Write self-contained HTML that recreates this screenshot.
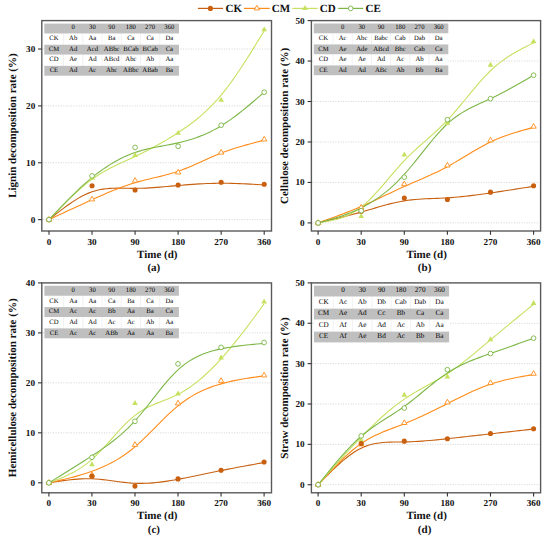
<!DOCTYPE html>
<html><head><meta charset="utf-8"><style>
html,body{margin:0;padding:0;background:#fff;overflow:hidden;width:550px;height:540px;}
svg{display:block;}
text{text-rendering:geometricPrecision;}
.tk{font-family:"Liberation Serif",serif;font-weight:bold;font-size:9.2px;fill:#111;}
.ttl{font-family:"Liberation Serif",serif;font-weight:bold;font-size:11px;fill:#111;}
.lg{font-family:"Liberation Serif",serif;font-weight:bold;font-size:11px;fill:#111;}
.tb{font-family:"Liberation Serif",serif;font-size:6.7px;fill:#000;}
</style></head><body>
<svg width="550" height="540" viewBox="0 0 550 540">
<rect width="550" height="540" fill="#fff"/>
<line x1="197.9" x2="223.0" y1="8.4" y2="8.4" stroke="#C8600F" stroke-width="1.2"/>
<circle cx="210.4" cy="8.4" r="2.55" fill="#C8600F"/>
<text x="225.6" y="12.2" class="lg">CK</text>
<line x1="244.0" x2="269.8" y1="8.4" y2="8.4" stroke="#FF8C1A" stroke-width="1.2"/>
<polygon points="256.9,5.3 259.58,9.95 254.22,9.95" fill="#fff" stroke="#FF8C1A" stroke-width="0.9" stroke-linejoin="miter"/>
<text x="271.8" y="12.2" class="lg">CM</text>
<line x1="292.3" x2="317.7" y1="8.4" y2="8.4" stroke="#C6E160" stroke-width="1.2"/>
<polygon points="305,5.1 307.86,10.05 302.14,10.05" fill="#C6E160"/>
<text x="319.8" y="12.2" class="lg">CD</text>
<line x1="338.2" x2="363.2" y1="8.4" y2="8.4" stroke="#7CB646" stroke-width="1.2"/>
<circle cx="350.7" cy="8.4" r="2.35" fill="#fff" stroke="#7CB646" stroke-width="0.9"/>
<text x="365.6" y="12.2" class="lg">CE</text>
<line x1="42.8" x2="270.5" y1="219.63" y2="219.63" stroke="#d6d6d6" stroke-width="1" stroke-dasharray="1.1 1.45"/>
<line x1="42.8" x2="270.5" y1="162.76" y2="162.76" stroke="#d6d6d6" stroke-width="1" stroke-dasharray="1.1 1.45"/>
<line x1="42.8" x2="270.5" y1="105.9" y2="105.9" stroke="#d6d6d6" stroke-width="1" stroke-dasharray="1.1 1.45"/>
<line x1="42.8" x2="270.5" y1="49.03" y2="49.03" stroke="#d6d6d6" stroke-width="1" stroke-dasharray="1.1 1.45"/>
<path d="M49,219.63 L52.59,216.77 L56.17,213.93 L59.76,211.14 L63.35,208.41 L66.93,205.78 L70.52,203.26 L74.11,200.87 L77.69,198.64 L81.28,196.6 L84.87,194.75 L88.45,193.13 L92.04,191.76 L95.63,190.66 L99.21,189.79 L102.8,189.14 L106.39,188.68 L109.97,188.38 L113.56,188.2 L117.15,188.13 L120.73,188.14 L124.32,188.19 L127.91,188.26 L131.49,188.33 L135.08,188.35 L138.67,188.32 L142.25,188.23 L145.84,188.08 L149.43,187.89 L153.01,187.66 L156.6,187.4 L160.19,187.11 L163.77,186.81 L167.36,186.49 L170.95,186.16 L174.53,185.83 L178.12,185.51 L181.71,185.2 L185.29,184.9 L188.88,184.62 L192.47,184.37 L196.05,184.13 L199.64,183.91 L203.23,183.72 L206.81,183.56 L210.4,183.43 L213.99,183.33 L217.57,183.26 L221.16,183.23 L224.75,183.24 L228.33,183.28 L231.92,183.36 L235.51,183.46 L239.09,183.59 L242.68,183.74 L246.27,183.91 L249.85,184.1 L253.44,184.3 L257.03,184.51 L260.61,184.72 L264.2,184.94" fill="none" stroke="#C8600F" stroke-width="1.1"/>
<path d="M49,219.63 L52.59,217.95 L56.17,216.28 L59.76,214.61 L63.35,212.93 L66.93,211.27 L70.52,209.6 L74.11,207.94 L77.69,206.29 L81.28,204.64 L84.87,202.99 L88.45,201.35 L92.04,199.72 L95.63,198.1 L99.21,196.5 L102.8,194.91 L106.39,193.36 L109.97,191.83 L113.56,190.35 L117.15,188.91 L120.73,187.53 L124.32,186.21 L127.91,184.95 L131.49,183.77 L135.08,182.66 L138.67,181.64 L142.25,180.69 L145.84,179.79 L149.43,178.92 L153.01,178.07 L156.6,177.23 L160.19,176.37 L163.77,175.48 L167.36,174.55 L170.95,173.55 L174.53,172.47 L178.12,171.29 L181.71,170.01 L185.29,168.63 L188.88,167.16 L192.47,165.64 L196.05,164.06 L199.64,162.46 L203.23,160.84 L206.81,159.22 L210.4,157.62 L213.99,156.06 L217.57,154.54 L221.16,153.1 L224.75,151.73 L228.33,150.44 L231.92,149.22 L235.51,148.06 L239.09,146.96 L242.68,145.91 L246.27,144.9 L249.85,143.93 L253.44,142.98 L257.03,142.06 L260.61,141.15 L264.2,140.24" fill="none" stroke="#FF8C1A" stroke-width="1.1"/>
<path d="M49,219.63 L52.59,215.88 L56.17,212.14 L59.76,208.44 L63.35,204.78 L66.93,201.2 L70.52,197.69 L74.11,194.28 L77.69,190.98 L81.28,187.81 L84.87,184.79 L88.45,181.93 L92.04,179.25 L95.63,176.76 L99.21,174.44 L102.8,172.28 L106.39,170.25 L109.97,168.34 L113.56,166.53 L117.15,164.78 L120.73,163.1 L124.32,161.45 L127.91,159.81 L131.49,158.17 L135.08,156.51 L138.67,154.8 L142.25,153.05 L145.84,151.25 L149.43,149.4 L153.01,147.51 L156.6,145.55 L160.19,143.55 L163.77,141.48 L167.36,139.36 L170.95,137.18 L174.53,134.93 L178.12,132.62 L181.71,130.25 L185.29,127.79 L188.88,125.23 L192.47,122.56 L196.05,119.76 L199.64,116.81 L203.23,113.69 L206.81,110.4 L210.4,106.91 L213.99,103.2 L217.57,99.27 L221.16,95.09 L224.75,90.66 L228.33,85.98 L231.92,81.09 L235.51,76 L239.09,70.74 L242.68,65.32 L246.27,59.77 L249.85,54.12 L253.44,48.37 L257.03,42.56 L260.61,36.71 L264.2,30.84" fill="none" stroke="#C6E160" stroke-width="1.1"/>
<path d="M49,219.63 L52.59,215.84 L56.17,212.06 L59.76,208.31 L63.35,204.59 L66.93,200.92 L70.52,197.31 L74.11,193.77 L77.69,190.31 L81.28,186.95 L84.87,183.69 L88.45,180.55 L92.04,177.55 L95.63,174.68 L99.21,171.95 L102.8,169.37 L106.39,166.93 L109.97,164.63 L113.56,162.47 L117.15,160.46 L120.73,158.59 L124.32,156.86 L127.91,155.27 L131.49,153.83 L135.08,152.53 L138.67,151.37 L142.25,150.33 L145.84,149.4 L149.43,148.56 L153.01,147.79 L156.6,147.08 L160.19,146.39 L163.77,145.73 L167.36,145.06 L170.95,144.37 L174.53,143.64 L178.12,142.86 L181.71,142 L185.29,141.07 L188.88,140.04 L192.47,138.92 L196.05,137.7 L199.64,136.38 L203.23,134.94 L206.81,133.38 L210.4,131.69 L213.99,129.87 L217.57,127.91 L221.16,125.8 L224.75,123.54 L228.33,121.14 L231.92,118.62 L235.51,115.98 L239.09,113.24 L242.68,110.4 L246.27,107.49 L249.85,104.52 L253.44,101.5 L257.03,98.44 L260.61,95.35 L264.2,92.25" fill="none" stroke="#7CB646" stroke-width="1.1"/>
<polygon points="49,216.53 51.68,221.18 46.32,221.18" fill="#fff" stroke="#FF8C1A" stroke-width="0.9" stroke-linejoin="miter"/>
<polygon points="92.04,196.23 94.72,200.88 89.36,200.88" fill="#fff" stroke="#FF8C1A" stroke-width="0.9" stroke-linejoin="miter"/>
<polygon points="135.08,177.57 137.76,182.22 132.4,182.22" fill="#fff" stroke="#FF8C1A" stroke-width="0.9" stroke-linejoin="miter"/>
<polygon points="178.12,169.33 180.8,173.98 175.44,173.98" fill="#fff" stroke="#FF8C1A" stroke-width="0.9" stroke-linejoin="miter"/>
<polygon points="221.16,149.43 223.84,154.08 218.48,154.08" fill="#fff" stroke="#FF8C1A" stroke-width="0.9" stroke-linejoin="miter"/>
<polygon points="264.2,136.35 266.88,141 261.52,141" fill="#fff" stroke="#FF8C1A" stroke-width="0.9" stroke-linejoin="miter"/>
<polygon points="49,216.33 51.86,221.28 46.14,221.28" fill="#C6E160"/>
<polygon points="92.04,174.82 94.9,179.77 89.18,179.77" fill="#C6E160"/>
<polygon points="135.08,152.07 137.94,157.02 132.22,157.02" fill="#C6E160"/>
<polygon points="178.12,129.89 180.98,134.84 175.26,134.84" fill="#C6E160"/>
<polygon points="221.16,96.91 224.02,101.86 218.3,101.86" fill="#C6E160"/>
<polygon points="264.2,26.4 267.06,31.35 261.34,31.35" fill="#C6E160"/>
<circle cx="49" cy="219.63" r="2.55" fill="#C8600F"/>
<circle cx="92.04" cy="185.79" r="2.55" fill="#C8600F"/>
<circle cx="135.08" cy="190.06" r="2.55" fill="#C8600F"/>
<circle cx="178.12" cy="184.94" r="2.55" fill="#C8600F"/>
<circle cx="221.16" cy="182.27" r="2.55" fill="#C8600F"/>
<circle cx="264.2" cy="184.2" r="2.55" fill="#C8600F"/>
<circle cx="49" cy="219.63" r="2.35" fill="#fff" stroke="#7CB646" stroke-width="0.9"/>
<circle cx="92.04" cy="175.84" r="2.35" fill="#fff" stroke="#7CB646" stroke-width="0.9"/>
<circle cx="135.08" cy="147.41" r="2.35" fill="#fff" stroke="#7CB646" stroke-width="0.9"/>
<circle cx="178.12" cy="146.27" r="2.35" fill="#fff" stroke="#7CB646" stroke-width="0.9"/>
<circle cx="221.16" cy="125.23" r="2.35" fill="#fff" stroke="#7CB646" stroke-width="0.9"/>
<circle cx="264.2" cy="92.25" r="2.35" fill="#fff" stroke="#7CB646" stroke-width="0.9"/>
<rect x="44.3" y="23.3" width="134.7" height="52.8" fill="#fff"/>
<line x1="63.54" x2="63.54" y1="23.3" y2="76.1" stroke="#e4e4e4" stroke-width="0.5"/>
<line x1="82.79" x2="82.79" y1="23.3" y2="76.1" stroke="#e4e4e4" stroke-width="0.5"/>
<line x1="102.03" x2="102.03" y1="23.3" y2="76.1" stroke="#e4e4e4" stroke-width="0.5"/>
<line x1="121.27" x2="121.27" y1="23.3" y2="76.1" stroke="#e4e4e4" stroke-width="0.5"/>
<line x1="140.51" x2="140.51" y1="23.3" y2="76.1" stroke="#e4e4e4" stroke-width="0.5"/>
<line x1="159.76" x2="159.76" y1="23.3" y2="76.1" stroke="#e4e4e4" stroke-width="0.5"/>
<rect x="44.3" y="23.6" width="134.7" height="9.86" fill="#bfbfbf"/>
<rect x="44.3" y="44.72" width="134.7" height="9.86" fill="#bfbfbf"/>
<rect x="44.3" y="65.84" width="134.7" height="9.86" fill="#bfbfbf"/>
<text x="73.16" y="29.48" class="tb" text-anchor="middle">0</text>
<text x="92.41" y="29.48" class="tb" text-anchor="middle">30</text>
<text x="111.65" y="29.48" class="tb" text-anchor="middle">90</text>
<text x="130.89" y="29.48" class="tb" text-anchor="middle">180</text>
<text x="150.14" y="29.48" class="tb" text-anchor="middle">270</text>
<text x="169.38" y="29.48" class="tb" text-anchor="middle">360</text>
<text x="53.92" y="40.34" class="tb" text-anchor="middle">CK</text>
<text x="73.16" y="40.34" class="tb" text-anchor="middle">Ab</text>
<text x="92.41" y="40.34" class="tb" text-anchor="middle">Aa</text>
<text x="111.65" y="40.34" class="tb" text-anchor="middle">Ba</text>
<text x="130.89" y="40.34" class="tb" text-anchor="middle">Ca</text>
<text x="150.14" y="40.34" class="tb" text-anchor="middle">Ca</text>
<text x="169.38" y="40.34" class="tb" text-anchor="middle">Da</text>
<text x="53.92" y="50.9" class="tb" text-anchor="middle">CM</text>
<text x="73.16" y="50.9" class="tb" text-anchor="middle">Ad</text>
<text x="92.41" y="50.9" class="tb" text-anchor="middle">Acd</text>
<text x="111.65" y="50.9" class="tb" text-anchor="middle">ABbc</text>
<text x="130.89" y="50.9" class="tb" text-anchor="middle">BCab</text>
<text x="150.14" y="50.9" class="tb" text-anchor="middle">BCab</text>
<text x="169.38" y="50.9" class="tb" text-anchor="middle">Ca</text>
<text x="53.92" y="61.46" class="tb" text-anchor="middle">CD</text>
<text x="73.16" y="61.46" class="tb" text-anchor="middle">Ae</text>
<text x="92.41" y="61.46" class="tb" text-anchor="middle">Ad</text>
<text x="111.65" y="61.46" class="tb" text-anchor="middle">ABcd</text>
<text x="130.89" y="61.46" class="tb" text-anchor="middle">Abc</text>
<text x="150.14" y="61.46" class="tb" text-anchor="middle">Ab</text>
<text x="169.38" y="61.46" class="tb" text-anchor="middle">Aa</text>
<text x="53.92" y="72.02" class="tb" text-anchor="middle">CE</text>
<text x="73.16" y="72.02" class="tb" text-anchor="middle">Ad</text>
<text x="92.41" y="72.02" class="tb" text-anchor="middle">Ac</text>
<text x="111.65" y="72.02" class="tb" text-anchor="middle">Abc</text>
<text x="130.89" y="72.02" class="tb" text-anchor="middle">ABbc</text>
<text x="150.14" y="72.02" class="tb" text-anchor="middle">ABab</text>
<text x="169.38" y="72.02" class="tb" text-anchor="middle">Ba</text>
<rect x="41.8" y="20.6" width="229.7" height="210.4" fill="none" stroke="#5a5a5a" stroke-width="1.4"/>
<line x1="38" x2="41.8" y1="219.63" y2="219.63" stroke="#333" stroke-width="1.1"/>
<text x="35.3" y="222.63" class="tk" text-anchor="end">0</text>
<line x1="38" x2="41.8" y1="162.76" y2="162.76" stroke="#333" stroke-width="1.1"/>
<text x="35.3" y="165.76" class="tk" text-anchor="end">10</text>
<line x1="38" x2="41.8" y1="105.9" y2="105.9" stroke="#333" stroke-width="1.1"/>
<text x="35.3" y="108.9" class="tk" text-anchor="end">20</text>
<line x1="38" x2="41.8" y1="49.03" y2="49.03" stroke="#333" stroke-width="1.1"/>
<text x="35.3" y="52.03" class="tk" text-anchor="end">30</text>
<line x1="49" x2="49" y1="231" y2="234.8" stroke="#333" stroke-width="1.1"/>
<text x="49" y="244.6" class="tk" text-anchor="middle">0</text>
<line x1="92.04" x2="92.04" y1="231" y2="234.8" stroke="#333" stroke-width="1.1"/>
<text x="92.04" y="244.6" class="tk" text-anchor="middle">30</text>
<line x1="135.08" x2="135.08" y1="231" y2="234.8" stroke="#333" stroke-width="1.1"/>
<text x="135.08" y="244.6" class="tk" text-anchor="middle">90</text>
<line x1="178.12" x2="178.12" y1="231" y2="234.8" stroke="#333" stroke-width="1.1"/>
<text x="178.12" y="244.6" class="tk" text-anchor="middle">180</text>
<line x1="221.16" x2="221.16" y1="231" y2="234.8" stroke="#333" stroke-width="1.1"/>
<text x="221.16" y="244.6" class="tk" text-anchor="middle">270</text>
<line x1="264.2" x2="264.2" y1="231" y2="234.8" stroke="#333" stroke-width="1.1"/>
<text x="264.2" y="244.6" class="tk" text-anchor="middle">360</text>
<text x="157.25" y="257.8" class="ttl" text-anchor="middle">Time (d)</text>
<text x="153.85" y="270.5" class="ttl" text-anchor="middle">(a)</text>
<text transform="translate(15.6,125.6) rotate(-90)" class="ttl" text-anchor="middle">Lignin decomposition rate (%)</text>
<line x1="312.4" x2="539.6" y1="222.91" y2="222.91" stroke="#d6d6d6" stroke-width="1" stroke-dasharray="1.1 1.45"/>
<line x1="312.4" x2="539.6" y1="182.45" y2="182.45" stroke="#d6d6d6" stroke-width="1" stroke-dasharray="1.1 1.45"/>
<line x1="312.4" x2="539.6" y1="141.98" y2="141.98" stroke="#d6d6d6" stroke-width="1" stroke-dasharray="1.1 1.45"/>
<line x1="312.4" x2="539.6" y1="101.52" y2="101.52" stroke="#d6d6d6" stroke-width="1" stroke-dasharray="1.1 1.45"/>
<line x1="312.4" x2="539.6" y1="61.06" y2="61.06" stroke="#d6d6d6" stroke-width="1" stroke-dasharray="1.1 1.45"/>
<line x1="312.4" x2="539.6" y1="20.6" y2="20.6" stroke="#d6d6d6" stroke-width="1" stroke-dasharray="1.1 1.45"/>
<path d="M318.1,222.91 L321.69,222.07 L325.28,221.23 L328.88,220.38 L332.47,219.52 L336.06,218.66 L339.65,217.78 L343.24,216.89 L346.83,215.98 L350.43,215.05 L354.02,214.09 L357.61,213.11 L361.2,212.1 L364.79,211.07 L368.38,210.01 L371.98,208.95 L375.57,207.89 L379.16,206.84 L382.75,205.82 L386.34,204.84 L389.93,203.9 L393.53,203.02 L397.12,202.21 L400.71,201.49 L404.3,200.86 L407.89,200.32 L411.48,199.88 L415.08,199.52 L418.67,199.23 L422.26,198.99 L425.85,198.79 L429.44,198.62 L433.03,198.48 L436.62,198.33 L440.22,198.19 L443.81,198.02 L447.4,197.82 L450.99,197.58 L454.58,197.31 L458.18,196.99 L461.77,196.64 L465.36,196.26 L468.95,195.85 L472.54,195.42 L476.13,194.96 L479.73,194.49 L483.32,193.99 L486.91,193.48 L490.5,192.97 L494.09,192.44 L497.68,191.9 L501.28,191.36 L504.87,190.81 L508.46,190.26 L512.05,189.7 L515.64,189.14 L519.23,188.57 L522.83,188.01 L526.42,187.43 L530.01,186.86 L533.6,186.29" fill="none" stroke="#C8600F" stroke-width="1.1"/>
<path d="M318.1,222.91 L321.69,221.63 L325.28,220.35 L328.88,219.06 L332.47,217.76 L336.06,216.44 L339.65,215.11 L343.24,213.75 L346.83,212.37 L350.43,210.95 L354.02,209.5 L357.61,208.01 L361.2,206.48 L364.79,204.9 L368.38,203.29 L371.98,201.64 L375.57,199.97 L379.16,198.28 L382.75,196.58 L386.34,194.87 L389.93,193.16 L393.53,191.46 L397.12,189.78 L400.71,188.12 L404.3,186.49 L407.89,184.9 L411.48,183.32 L415.08,181.77 L418.67,180.21 L422.26,178.66 L425.85,177.08 L429.44,175.48 L433.03,173.83 L436.62,172.14 L440.22,170.39 L443.81,168.57 L447.4,166.67 L450.99,164.68 L454.58,162.61 L458.18,160.5 L461.77,158.34 L465.36,156.17 L468.95,154 L472.54,151.84 L476.13,149.72 L479.73,147.66 L483.32,145.67 L486.91,143.77 L490.5,141.98 L494.09,140.32 L497.68,138.77 L501.28,137.33 L504.87,135.99 L508.46,134.73 L512.05,133.55 L515.64,132.43 L519.23,131.36 L522.83,130.34 L526.42,129.35 L530.01,128.38 L533.6,127.42" fill="none" stroke="#FF8C1A" stroke-width="1.1"/>
<path d="M318.1,222.91 L321.69,222.33 L325.28,221.73 L328.88,221.06 L332.47,220.3 L336.06,219.41 L339.65,218.37 L343.24,217.15 L346.83,215.7 L350.43,214.01 L354.02,212.04 L357.61,209.75 L361.2,207.13 L364.79,204.14 L368.38,200.83 L371.98,197.25 L375.57,193.44 L379.16,189.45 L382.75,185.33 L386.34,181.13 L389.93,176.89 L393.53,172.67 L397.12,168.52 L400.71,164.48 L404.3,160.6 L407.89,156.91 L411.48,153.4 L415.08,150.03 L418.67,146.77 L422.26,143.57 L425.85,140.41 L429.44,137.24 L433.03,134.04 L436.62,130.76 L440.22,127.37 L443.81,123.84 L447.4,120.14 L450.99,116.23 L454.58,112.14 L458.18,107.93 L461.77,103.62 L465.36,99.26 L468.95,94.89 L472.54,90.55 L476.13,86.29 L479.73,82.14 L483.32,78.14 L486.91,74.34 L490.5,70.77 L494.09,67.47 L497.68,64.43 L501.28,61.61 L504.87,59 L508.46,56.58 L512.05,54.32 L515.64,52.2 L519.23,50.19 L522.83,48.28 L526.42,46.43 L530.01,44.63 L533.6,42.85" fill="none" stroke="#C6E160" stroke-width="1.1"/>
<path d="M318.1,222.91 L321.69,221.93 L325.28,220.95 L328.88,219.94 L332.47,218.89 L336.06,217.8 L339.65,216.66 L343.24,215.44 L346.83,214.14 L350.43,212.76 L354.02,211.27 L357.61,209.67 L361.2,207.94 L364.79,206.07 L368.38,204.06 L371.98,201.9 L375.57,199.58 L379.16,197.09 L382.75,194.43 L386.34,191.58 L389.93,188.55 L393.53,185.31 L397.12,181.87 L400.71,178.22 L404.3,174.35 L407.89,170.26 L411.48,166 L415.08,161.59 L418.67,157.1 L422.26,152.58 L425.85,148.06 L429.44,143.6 L433.03,139.24 L436.62,135.03 L440.22,131.02 L443.81,127.25 L447.4,123.78 L450.99,120.63 L454.58,117.79 L458.18,115.21 L461.77,112.88 L465.36,110.75 L468.95,108.79 L472.54,106.97 L476.13,105.24 L479.73,103.59 L483.32,101.97 L486.91,100.35 L490.5,98.69 L494.09,96.97 L497.68,95.2 L501.28,93.36 L504.87,91.47 L508.46,89.54 L512.05,87.57 L515.64,85.56 L519.23,83.53 L522.83,81.47 L526.42,79.4 L530.01,77.31 L533.6,75.22" fill="none" stroke="#7CB646" stroke-width="1.1"/>
<polygon points="318.1,219.81 320.78,224.46 315.42,224.46" fill="#fff" stroke="#FF8C1A" stroke-width="0.9" stroke-linejoin="miter"/>
<polygon points="361.2,204.43 363.88,209.08 358.52,209.08" fill="#fff" stroke="#FF8C1A" stroke-width="0.9" stroke-linejoin="miter"/>
<polygon points="404.3,181.09 406.98,185.74 401.62,185.74" fill="#fff" stroke="#FF8C1A" stroke-width="0.9" stroke-linejoin="miter"/>
<polygon points="447.4,162.35 450.08,167 444.72,167" fill="#fff" stroke="#FF8C1A" stroke-width="0.9" stroke-linejoin="miter"/>
<polygon points="490.5,137.27 493.18,141.92 487.82,141.92" fill="#fff" stroke="#FF8C1A" stroke-width="0.9" stroke-linejoin="miter"/>
<polygon points="533.6,123.51 536.28,128.16 530.92,128.16" fill="#fff" stroke="#FF8C1A" stroke-width="0.9" stroke-linejoin="miter"/>
<polygon points="318.1,219.61 320.96,224.56 315.24,224.56" fill="#C6E160"/>
<polygon points="361.2,213.13 364.06,218.08 358.34,218.08" fill="#C6E160"/>
<polygon points="404.3,151.43 407.16,156.38 401.44,156.38" fill="#C6E160"/>
<polygon points="447.4,120.07 450.26,125.02 444.54,125.02" fill="#C6E160"/>
<polygon points="490.5,61.81 493.36,66.76 487.64,66.76" fill="#C6E160"/>
<polygon points="533.6,38.34 536.46,43.29 530.74,43.29" fill="#C6E160"/>
<circle cx="318.1" cy="222.91" r="2.55" fill="#C8600F"/>
<circle cx="361.2" cy="211.17" r="2.55" fill="#C8600F"/>
<circle cx="404.3" cy="197.98" r="2.55" fill="#C8600F"/>
<circle cx="447.4" cy="199.44" r="2.55" fill="#C8600F"/>
<circle cx="490.5" cy="192.16" r="2.55" fill="#C8600F"/>
<circle cx="533.6" cy="185.68" r="2.55" fill="#C8600F"/>
<circle cx="318.1" cy="222.91" r="2.35" fill="#fff" stroke="#7CB646" stroke-width="0.9"/>
<circle cx="361.2" cy="210.77" r="2.35" fill="#fff" stroke="#7CB646" stroke-width="0.9"/>
<circle cx="404.3" cy="177.19" r="2.35" fill="#fff" stroke="#7CB646" stroke-width="0.9"/>
<circle cx="447.4" cy="119.73" r="2.35" fill="#fff" stroke="#7CB646" stroke-width="0.9"/>
<circle cx="490.5" cy="98.69" r="2.35" fill="#fff" stroke="#7CB646" stroke-width="0.9"/>
<circle cx="533.6" cy="75.22" r="2.35" fill="#fff" stroke="#7CB646" stroke-width="0.9"/>
<rect x="313.8" y="23.2" width="134.5" height="52.4" fill="#fff"/>
<line x1="333.01" x2="333.01" y1="23.2" y2="75.6" stroke="#e4e4e4" stroke-width="0.5"/>
<line x1="352.23" x2="352.23" y1="23.2" y2="75.6" stroke="#e4e4e4" stroke-width="0.5"/>
<line x1="371.44" x2="371.44" y1="23.2" y2="75.6" stroke="#e4e4e4" stroke-width="0.5"/>
<line x1="390.66" x2="390.66" y1="23.2" y2="75.6" stroke="#e4e4e4" stroke-width="0.5"/>
<line x1="409.87" x2="409.87" y1="23.2" y2="75.6" stroke="#e4e4e4" stroke-width="0.5"/>
<line x1="429.09" x2="429.09" y1="23.2" y2="75.6" stroke="#e4e4e4" stroke-width="0.5"/>
<rect x="313.8" y="23.5" width="134.5" height="9.78" fill="#bfbfbf"/>
<rect x="313.8" y="44.46" width="134.5" height="9.78" fill="#bfbfbf"/>
<rect x="313.8" y="65.42" width="134.5" height="9.78" fill="#bfbfbf"/>
<text x="342.62" y="29.34" class="tb" text-anchor="middle">0</text>
<text x="361.84" y="29.34" class="tb" text-anchor="middle">30</text>
<text x="381.05" y="29.34" class="tb" text-anchor="middle">90</text>
<text x="400.26" y="29.34" class="tb" text-anchor="middle">180</text>
<text x="419.48" y="29.34" class="tb" text-anchor="middle">270</text>
<text x="438.69" y="29.34" class="tb" text-anchor="middle">360</text>
<text x="323.41" y="40.12" class="tb" text-anchor="middle">CK</text>
<text x="342.62" y="40.12" class="tb" text-anchor="middle">Ac</text>
<text x="361.84" y="40.12" class="tb" text-anchor="middle">Abc</text>
<text x="381.05" y="40.12" class="tb" text-anchor="middle">Babc</text>
<text x="400.26" y="40.12" class="tb" text-anchor="middle">Cab</text>
<text x="419.48" y="40.12" class="tb" text-anchor="middle">Dab</text>
<text x="438.69" y="40.12" class="tb" text-anchor="middle">Da</text>
<text x="323.41" y="50.6" class="tb" text-anchor="middle">CM</text>
<text x="342.62" y="50.6" class="tb" text-anchor="middle">Ae</text>
<text x="361.84" y="50.6" class="tb" text-anchor="middle">Ade</text>
<text x="381.05" y="50.6" class="tb" text-anchor="middle">ABcd</text>
<text x="400.26" y="50.6" class="tb" text-anchor="middle">Bbc</text>
<text x="419.48" y="50.6" class="tb" text-anchor="middle">Cab</text>
<text x="438.69" y="50.6" class="tb" text-anchor="middle">Ca</text>
<text x="323.41" y="61.08" class="tb" text-anchor="middle">CD</text>
<text x="342.62" y="61.08" class="tb" text-anchor="middle">Ae</text>
<text x="361.84" y="61.08" class="tb" text-anchor="middle">Ae</text>
<text x="381.05" y="61.08" class="tb" text-anchor="middle">Ad</text>
<text x="400.26" y="61.08" class="tb" text-anchor="middle">Ac</text>
<text x="419.48" y="61.08" class="tb" text-anchor="middle">Ab</text>
<text x="438.69" y="61.08" class="tb" text-anchor="middle">Aa</text>
<text x="323.41" y="71.56" class="tb" text-anchor="middle">CE</text>
<text x="342.62" y="71.56" class="tb" text-anchor="middle">Ad</text>
<text x="361.84" y="71.56" class="tb" text-anchor="middle">Ad</text>
<text x="381.05" y="71.56" class="tb" text-anchor="middle">ABc</text>
<text x="400.26" y="71.56" class="tb" text-anchor="middle">Ab</text>
<text x="419.48" y="71.56" class="tb" text-anchor="middle">Bb</text>
<text x="438.69" y="71.56" class="tb" text-anchor="middle">Ba</text>
<rect x="311.4" y="20.6" width="229.2" height="210.4" fill="none" stroke="#5a5a5a" stroke-width="1.4"/>
<line x1="307.6" x2="311.4" y1="222.91" y2="222.91" stroke="#333" stroke-width="1.1"/>
<text x="304.6" y="225.91" class="tk" text-anchor="end">0</text>
<line x1="307.6" x2="311.4" y1="182.45" y2="182.45" stroke="#333" stroke-width="1.1"/>
<text x="304.6" y="185.45" class="tk" text-anchor="end">10</text>
<line x1="307.6" x2="311.4" y1="141.98" y2="141.98" stroke="#333" stroke-width="1.1"/>
<text x="304.6" y="144.98" class="tk" text-anchor="end">20</text>
<line x1="307.6" x2="311.4" y1="101.52" y2="101.52" stroke="#333" stroke-width="1.1"/>
<text x="304.6" y="104.52" class="tk" text-anchor="end">30</text>
<line x1="307.6" x2="311.4" y1="61.06" y2="61.06" stroke="#333" stroke-width="1.1"/>
<text x="304.6" y="64.06" class="tk" text-anchor="end">40</text>
<line x1="307.6" x2="311.4" y1="20.6" y2="20.6" stroke="#333" stroke-width="1.1"/>
<text x="304.6" y="23.6" class="tk" text-anchor="end">50</text>
<line x1="318.1" x2="318.1" y1="231" y2="234.8" stroke="#333" stroke-width="1.1"/>
<text x="318.1" y="244.6" class="tk" text-anchor="middle">0</text>
<line x1="361.2" x2="361.2" y1="231" y2="234.8" stroke="#333" stroke-width="1.1"/>
<text x="361.2" y="244.6" class="tk" text-anchor="middle">30</text>
<line x1="404.3" x2="404.3" y1="231" y2="234.8" stroke="#333" stroke-width="1.1"/>
<text x="404.3" y="244.6" class="tk" text-anchor="middle">90</text>
<line x1="447.4" x2="447.4" y1="231" y2="234.8" stroke="#333" stroke-width="1.1"/>
<text x="447.4" y="244.6" class="tk" text-anchor="middle">180</text>
<line x1="490.5" x2="490.5" y1="231" y2="234.8" stroke="#333" stroke-width="1.1"/>
<text x="490.5" y="244.6" class="tk" text-anchor="middle">270</text>
<line x1="533.6" x2="533.6" y1="231" y2="234.8" stroke="#333" stroke-width="1.1"/>
<text x="533.6" y="244.6" class="tk" text-anchor="middle">360</text>
<text x="426.6" y="257.8" class="ttl" text-anchor="middle">Time (d)</text>
<text x="424.6" y="270.5" class="ttl" text-anchor="middle">(b)</text>
<text transform="translate(287.7,125.9) rotate(-90)" class="ttl" text-anchor="middle">Cellulose decomposition rate (%)</text>
<line x1="42.8" x2="270.5" y1="482.8" y2="482.8" stroke="#d6d6d6" stroke-width="1" stroke-dasharray="1.1 1.45"/>
<line x1="42.8" x2="270.5" y1="432.83" y2="432.83" stroke="#d6d6d6" stroke-width="1" stroke-dasharray="1.1 1.45"/>
<line x1="42.8" x2="270.5" y1="382.85" y2="382.85" stroke="#d6d6d6" stroke-width="1" stroke-dasharray="1.1 1.45"/>
<line x1="42.8" x2="270.5" y1="332.88" y2="332.88" stroke="#d6d6d6" stroke-width="1" stroke-dasharray="1.1 1.45"/>
<line x1="42.8" x2="270.5" y1="282.9" y2="282.9" stroke="#d6d6d6" stroke-width="1" stroke-dasharray="1.1 1.45"/>
<path d="M48.9,482.8 L52.49,482.24 L56.07,481.69 L59.66,481.15 L63.25,480.64 L66.83,480.18 L70.42,479.76 L74.01,479.4 L77.59,479.11 L81.18,478.89 L84.77,478.76 L88.35,478.73 L91.94,478.81 L95.53,478.99 L99.11,479.28 L102.7,479.64 L106.29,480.06 L109.87,480.53 L113.46,481.01 L117.05,481.5 L120.63,481.97 L124.22,482.4 L127.81,482.78 L131.39,483.09 L134.98,483.3 L138.57,483.41 L142.15,483.42 L145.74,483.32 L149.33,483.14 L152.91,482.87 L156.5,482.53 L160.09,482.12 L163.67,481.65 L167.26,481.13 L170.85,480.56 L174.43,479.95 L178.02,479.31 L181.61,478.64 L185.19,477.95 L188.78,477.24 L192.37,476.52 L195.95,475.78 L199.54,475.04 L203.13,474.29 L206.71,473.53 L210.3,472.78 L213.89,472.03 L217.47,471.29 L221.06,470.56 L224.65,469.84 L228.23,469.14 L231.82,468.44 L235.41,467.76 L238.99,467.08 L242.58,466.42 L246.17,465.76 L249.75,465.1 L253.34,464.45 L256.93,463.8 L260.51,463.16 L264.1,462.51" fill="none" stroke="#C8600F" stroke-width="1.1"/>
<path d="M48.9,482.8 L52.49,482.01 L56.07,481.21 L59.66,480.4 L63.25,479.57 L66.83,478.7 L70.42,477.81 L74.01,476.87 L77.59,475.88 L81.18,474.84 L84.77,473.74 L88.35,472.56 L91.94,471.31 L95.53,469.98 L99.11,468.55 L102.7,467.01 L106.29,465.37 L109.87,463.59 L113.46,461.69 L117.05,459.63 L120.63,457.43 L124.22,455.05 L127.81,452.5 L131.39,449.76 L134.98,446.82 L138.57,443.69 L142.15,440.38 L145.74,436.93 L149.33,433.39 L152.91,429.79 L156.5,426.15 L160.09,422.53 L163.67,418.96 L167.26,415.46 L170.85,412.09 L174.43,408.87 L178.02,405.84 L181.61,403.03 L185.19,400.44 L188.78,398.05 L192.37,395.86 L195.95,393.84 L199.54,392 L203.13,390.31 L206.71,388.77 L210.3,387.37 L213.89,386.09 L217.47,384.92 L221.06,383.85 L224.65,382.87 L228.23,381.98 L231.82,381.15 L235.41,380.4 L238.99,379.7 L242.58,379.05 L246.17,378.45 L249.75,377.89 L253.34,377.35 L256.93,376.84 L260.51,376.35 L264.1,375.86" fill="none" stroke="#FF8C1A" stroke-width="1.1"/>
<path d="M48.9,482.8 L52.49,481.45 L56.07,480.08 L59.66,478.65 L63.25,477.15 L66.83,475.54 L70.42,473.81 L74.01,471.92 L77.59,469.86 L81.18,467.59 L84.77,465.1 L88.35,462.35 L91.94,459.32 L95.53,455.99 L99.11,452.42 L102.7,448.66 L106.29,444.76 L109.87,440.78 L113.46,436.77 L117.05,432.79 L120.63,428.9 L124.22,425.16 L127.81,421.61 L131.39,418.32 L134.98,415.34 L138.57,412.7 L142.15,410.39 L145.74,408.35 L149.33,406.53 L152.91,404.89 L156.5,403.38 L160.09,401.95 L163.67,400.55 L167.26,399.14 L170.85,397.67 L174.43,396.09 L178.02,394.35 L181.61,392.41 L185.19,390.27 L188.78,387.94 L192.37,385.42 L195.95,382.71 L199.54,379.81 L203.13,376.74 L206.71,373.5 L210.3,370.08 L213.89,366.5 L217.47,362.76 L221.06,358.86 L224.65,354.82 L228.23,350.63 L231.82,346.32 L235.41,341.89 L238.99,337.36 L242.58,332.74 L246.17,328.05 L249.75,323.29 L253.34,318.49 L256.93,313.64 L260.51,308.77 L264.1,303.89" fill="none" stroke="#C6E160" stroke-width="1.1"/>
<path d="M48.9,482.8 L52.49,480.6 L56.07,478.39 L59.66,476.17 L63.25,473.96 L66.83,471.73 L70.42,469.5 L74.01,467.25 L77.59,465 L81.18,462.73 L84.77,460.44 L88.35,458.14 L91.94,455.82 L95.53,453.47 L99.11,451.09 L102.7,448.64 L106.29,446.12 L109.87,443.5 L113.46,440.77 L117.05,437.9 L120.63,434.87 L124.22,431.67 L127.81,428.28 L131.39,424.67 L134.98,420.83 L138.57,416.76 L142.15,412.48 L145.74,408.06 L149.33,403.53 L152.91,398.96 L156.5,394.39 L160.09,389.87 L163.67,385.46 L167.26,381.2 L170.85,377.15 L174.43,373.35 L178.02,369.86 L181.61,366.71 L185.19,363.9 L188.78,361.39 L192.37,359.18 L195.95,357.22 L199.54,355.5 L203.13,354 L206.71,352.69 L210.3,351.54 L213.89,350.54 L217.47,349.66 L221.06,348.87 L224.65,348.16 L228.23,347.51 L231.82,346.93 L235.41,346.39 L238.99,345.91 L242.58,345.47 L246.17,345.07 L249.75,344.69 L253.34,344.34 L256.93,344.01 L260.51,343.69 L264.1,343.37" fill="none" stroke="#7CB646" stroke-width="1.1"/>
<polygon points="48.9,479.7 51.58,484.35 46.22,484.35" fill="#fff" stroke="#FF8C1A" stroke-width="0.9" stroke-linejoin="miter"/>
<polygon points="91.94,471.96 94.62,476.61 89.26,476.61" fill="#fff" stroke="#FF8C1A" stroke-width="0.9" stroke-linejoin="miter"/>
<polygon points="134.98,441.72 137.66,446.37 132.3,446.37" fill="#fff" stroke="#FF8C1A" stroke-width="0.9" stroke-linejoin="miter"/>
<polygon points="178.02,400.24 180.7,404.89 175.34,404.89" fill="#fff" stroke="#FF8C1A" stroke-width="0.9" stroke-linejoin="miter"/>
<polygon points="221.06,377.75 223.74,382.4 218.38,382.4" fill="#fff" stroke="#FF8C1A" stroke-width="0.9" stroke-linejoin="miter"/>
<polygon points="264.1,372.26 266.78,376.91 261.42,376.91" fill="#fff" stroke="#FF8C1A" stroke-width="0.9" stroke-linejoin="miter"/>
<polygon points="48.9,479.5 51.76,484.45 46.04,484.45" fill="#C6E160"/>
<polygon points="91.94,461.31 94.8,466.26 89.08,466.26" fill="#C6E160"/>
<polygon points="134.98,400.04 137.84,404.99 132.12,404.99" fill="#C6E160"/>
<polygon points="178.02,390.55 180.88,395.5 175.16,395.5" fill="#C6E160"/>
<polygon points="221.06,354.56 223.92,359.51 218.2,359.51" fill="#C6E160"/>
<polygon points="264.1,298.59 266.96,303.54 261.24,303.54" fill="#C6E160"/>
<circle cx="48.9" cy="482.8" r="2.55" fill="#C8600F"/>
<circle cx="91.94" cy="476.16" r="2.55" fill="#C8600F"/>
<circle cx="134.98" cy="486.1" r="2.55" fill="#C8600F"/>
<circle cx="178.02" cy="478.91" r="2.55" fill="#C8600F"/>
<circle cx="221.06" cy="470.31" r="2.55" fill="#C8600F"/>
<circle cx="264.1" cy="462.01" r="2.55" fill="#C8600F"/>
<circle cx="48.9" cy="482.8" r="2.35" fill="#fff" stroke="#7CB646" stroke-width="0.9"/>
<circle cx="91.94" cy="457.32" r="2.35" fill="#fff" stroke="#7CB646" stroke-width="0.9"/>
<circle cx="134.98" cy="421.33" r="2.35" fill="#fff" stroke="#7CB646" stroke-width="0.9"/>
<circle cx="178.02" cy="363.86" r="2.35" fill="#fff" stroke="#7CB646" stroke-width="0.9"/>
<circle cx="221.06" cy="347.37" r="2.35" fill="#fff" stroke="#7CB646" stroke-width="0.9"/>
<circle cx="264.1" cy="342.52" r="2.35" fill="#fff" stroke="#7CB646" stroke-width="0.9"/>
<rect x="44.4" y="285.5" width="134.5" height="53.2" fill="#fff"/>
<line x1="63.61" x2="63.61" y1="285.5" y2="338.7" stroke="#e4e4e4" stroke-width="0.5"/>
<line x1="82.83" x2="82.83" y1="285.5" y2="338.7" stroke="#e4e4e4" stroke-width="0.5"/>
<line x1="102.04" x2="102.04" y1="285.5" y2="338.7" stroke="#e4e4e4" stroke-width="0.5"/>
<line x1="121.26" x2="121.26" y1="285.5" y2="338.7" stroke="#e4e4e4" stroke-width="0.5"/>
<line x1="140.47" x2="140.47" y1="285.5" y2="338.7" stroke="#e4e4e4" stroke-width="0.5"/>
<line x1="159.69" x2="159.69" y1="285.5" y2="338.7" stroke="#e4e4e4" stroke-width="0.5"/>
<rect x="44.4" y="285.8" width="134.5" height="9.94" fill="#bfbfbf"/>
<rect x="44.4" y="307.08" width="134.5" height="9.94" fill="#bfbfbf"/>
<rect x="44.4" y="328.36" width="134.5" height="9.94" fill="#bfbfbf"/>
<text x="73.22" y="291.72" class="tb" text-anchor="middle">0</text>
<text x="92.44" y="291.72" class="tb" text-anchor="middle">30</text>
<text x="111.65" y="291.72" class="tb" text-anchor="middle">90</text>
<text x="130.86" y="291.72" class="tb" text-anchor="middle">180</text>
<text x="150.08" y="291.72" class="tb" text-anchor="middle">270</text>
<text x="169.29" y="291.72" class="tb" text-anchor="middle">360</text>
<text x="54.01" y="302.66" class="tb" text-anchor="middle">CK</text>
<text x="73.22" y="302.66" class="tb" text-anchor="middle">Aa</text>
<text x="92.44" y="302.66" class="tb" text-anchor="middle">Aa</text>
<text x="111.65" y="302.66" class="tb" text-anchor="middle">Ca</text>
<text x="130.86" y="302.66" class="tb" text-anchor="middle">Ba</text>
<text x="150.08" y="302.66" class="tb" text-anchor="middle">Ca</text>
<text x="169.29" y="302.66" class="tb" text-anchor="middle">Da</text>
<text x="54.01" y="313.3" class="tb" text-anchor="middle">CM</text>
<text x="73.22" y="313.3" class="tb" text-anchor="middle">Ac</text>
<text x="92.44" y="313.3" class="tb" text-anchor="middle">Ac</text>
<text x="111.65" y="313.3" class="tb" text-anchor="middle">Bb</text>
<text x="130.86" y="313.3" class="tb" text-anchor="middle">Aa</text>
<text x="150.08" y="313.3" class="tb" text-anchor="middle">Ba</text>
<text x="169.29" y="313.3" class="tb" text-anchor="middle">Ca</text>
<text x="54.01" y="323.94" class="tb" text-anchor="middle">CD</text>
<text x="73.22" y="323.94" class="tb" text-anchor="middle">Ad</text>
<text x="92.44" y="323.94" class="tb" text-anchor="middle">Ad</text>
<text x="111.65" y="323.94" class="tb" text-anchor="middle">Ac</text>
<text x="130.86" y="323.94" class="tb" text-anchor="middle">Ac</text>
<text x="150.08" y="323.94" class="tb" text-anchor="middle">Ab</text>
<text x="169.29" y="323.94" class="tb" text-anchor="middle">Aa</text>
<text x="54.01" y="334.58" class="tb" text-anchor="middle">CE</text>
<text x="73.22" y="334.58" class="tb" text-anchor="middle">Ac</text>
<text x="92.44" y="334.58" class="tb" text-anchor="middle">Ac</text>
<text x="111.65" y="334.58" class="tb" text-anchor="middle">ABb</text>
<text x="130.86" y="334.58" class="tb" text-anchor="middle">Aa</text>
<text x="150.08" y="334.58" class="tb" text-anchor="middle">Aa</text>
<text x="169.29" y="334.58" class="tb" text-anchor="middle">Ba</text>
<rect x="41.8" y="282.9" width="229.7" height="209.9" fill="none" stroke="#5a5a5a" stroke-width="1.4"/>
<line x1="38" x2="41.8" y1="482.8" y2="482.8" stroke="#333" stroke-width="1.1"/>
<text x="35" y="485.8" class="tk" text-anchor="end">0</text>
<line x1="38" x2="41.8" y1="432.83" y2="432.83" stroke="#333" stroke-width="1.1"/>
<text x="35" y="435.83" class="tk" text-anchor="end">10</text>
<line x1="38" x2="41.8" y1="382.85" y2="382.85" stroke="#333" stroke-width="1.1"/>
<text x="35" y="385.85" class="tk" text-anchor="end">20</text>
<line x1="38" x2="41.8" y1="332.88" y2="332.88" stroke="#333" stroke-width="1.1"/>
<text x="35" y="335.88" class="tk" text-anchor="end">30</text>
<line x1="38" x2="41.8" y1="282.9" y2="282.9" stroke="#333" stroke-width="1.1"/>
<text x="35" y="285.9" class="tk" text-anchor="end">40</text>
<line x1="48.9" x2="48.9" y1="492.8" y2="496.6" stroke="#333" stroke-width="1.1"/>
<text x="48.9" y="506.4" class="tk" text-anchor="middle">0</text>
<line x1="91.94" x2="91.94" y1="492.8" y2="496.6" stroke="#333" stroke-width="1.1"/>
<text x="91.94" y="506.4" class="tk" text-anchor="middle">30</text>
<line x1="134.98" x2="134.98" y1="492.8" y2="496.6" stroke="#333" stroke-width="1.1"/>
<text x="134.98" y="506.4" class="tk" text-anchor="middle">90</text>
<line x1="178.02" x2="178.02" y1="492.8" y2="496.6" stroke="#333" stroke-width="1.1"/>
<text x="178.02" y="506.4" class="tk" text-anchor="middle">180</text>
<line x1="221.06" x2="221.06" y1="492.8" y2="496.6" stroke="#333" stroke-width="1.1"/>
<text x="221.06" y="506.4" class="tk" text-anchor="middle">270</text>
<line x1="264.1" x2="264.1" y1="492.8" y2="496.6" stroke="#333" stroke-width="1.1"/>
<text x="264.1" y="506.4" class="tk" text-anchor="middle">360</text>
<text x="157.25" y="519" class="ttl" text-anchor="middle">Time (d)</text>
<text x="153.85" y="533.3" class="ttl" text-anchor="middle">(c)</text>
<text transform="translate(16.3,387.8) rotate(-90)" class="ttl" text-anchor="middle">Hemicellulose decomposition rate (%)</text>
<line x1="312.4" x2="539.6" y1="484.73" y2="484.73" stroke="#d6d6d6" stroke-width="1" stroke-dasharray="1.1 1.45"/>
<line x1="312.4" x2="539.6" y1="444.36" y2="444.36" stroke="#d6d6d6" stroke-width="1" stroke-dasharray="1.1 1.45"/>
<line x1="312.4" x2="539.6" y1="404" y2="404" stroke="#d6d6d6" stroke-width="1" stroke-dasharray="1.1 1.45"/>
<line x1="312.4" x2="539.6" y1="363.63" y2="363.63" stroke="#d6d6d6" stroke-width="1" stroke-dasharray="1.1 1.45"/>
<line x1="312.4" x2="539.6" y1="323.27" y2="323.27" stroke="#d6d6d6" stroke-width="1" stroke-dasharray="1.1 1.45"/>
<line x1="312.4" x2="539.6" y1="282.9" y2="282.9" stroke="#d6d6d6" stroke-width="1" stroke-dasharray="1.1 1.45"/>
<path d="M318.1,484.73 L321.69,481.03 L325.28,477.36 L328.88,473.75 L332.47,470.22 L336.06,466.8 L339.65,463.51 L343.24,460.39 L346.83,457.46 L350.43,454.75 L354.02,452.28 L357.61,450.09 L361.2,448.2 L364.79,446.62 L368.38,445.34 L371.98,444.33 L375.57,443.55 L379.16,442.97 L382.75,442.56 L386.34,442.29 L389.93,442.13 L393.53,442.05 L397.12,442.01 L400.71,441.98 L404.3,441.94 L407.89,441.85 L411.48,441.72 L415.08,441.55 L418.67,441.33 L422.26,441.09 L425.85,440.81 L429.44,440.51 L433.03,440.18 L436.62,439.83 L440.22,439.47 L443.81,439.09 L447.4,438.71 L450.99,438.32 L454.58,437.93 L458.18,437.53 L461.77,437.13 L465.36,436.73 L468.95,436.32 L472.54,435.91 L476.13,435.5 L479.73,435.1 L483.32,434.69 L486.91,434.28 L490.5,433.87 L494.09,433.46 L497.68,433.05 L501.28,432.65 L504.87,432.24 L508.46,431.84 L512.05,431.43 L515.64,431.03 L519.23,430.63 L522.83,430.23 L526.42,429.83 L530.01,429.42 L533.6,429.02" fill="none" stroke="#C8600F" stroke-width="1.1"/>
<path d="M318.1,484.73 L321.69,480.82 L325.28,476.94 L328.88,473.09 L332.47,469.3 L336.06,465.6 L339.65,461.99 L343.24,458.5 L346.83,455.16 L350.43,451.97 L354.02,448.96 L357.61,446.15 L361.2,443.55 L364.79,441.19 L368.38,439.05 L371.98,437.09 L375.57,435.29 L379.16,433.63 L382.75,432.09 L386.34,430.63 L389.93,429.24 L393.53,427.88 L397.12,426.53 L400.71,425.17 L404.3,423.78 L407.89,422.32 L411.48,420.8 L415.08,419.24 L418.67,417.62 L422.26,415.96 L425.85,414.27 L429.44,412.54 L433.03,410.78 L436.62,409 L440.22,407.21 L443.81,405.4 L447.4,403.59 L450.99,401.78 L454.58,399.98 L458.18,398.19 L461.77,396.42 L465.36,394.69 L468.95,393 L472.54,391.36 L476.13,389.78 L479.73,388.27 L483.32,386.83 L486.91,385.48 L490.5,384.22 L494.09,383.05 L497.68,381.98 L501.28,381 L504.87,380.09 L508.46,379.25 L512.05,378.46 L515.64,377.73 L519.23,377.04 L522.83,376.38 L526.42,375.75 L530.01,375.14 L533.6,374.53" fill="none" stroke="#FF8C1A" stroke-width="1.1"/>
<path d="M318.1,484.73 L321.69,480.63 L325.28,476.54 L328.88,472.46 L332.47,468.39 L336.06,464.35 L339.65,460.33 L343.24,456.35 L346.83,452.4 L350.43,448.5 L354.02,444.64 L357.61,440.84 L361.2,437.1 L364.79,433.42 L368.38,429.81 L371.98,426.28 L375.57,422.83 L379.16,419.48 L382.75,416.23 L386.34,413.08 L389.93,410.04 L393.53,407.12 L397.12,404.33 L400.71,401.67 L404.3,399.15 L407.89,396.77 L411.48,394.52 L415.08,392.37 L418.67,390.29 L422.26,388.27 L425.85,386.28 L429.44,384.3 L433.03,382.3 L436.62,380.27 L440.22,378.18 L443.81,376 L447.4,373.72 L450.99,371.32 L454.58,368.8 L458.18,366.17 L461.77,363.46 L465.36,360.66 L468.95,357.79 L472.54,354.87 L476.13,351.9 L479.73,348.9 L483.32,345.87 L486.91,342.84 L490.5,339.82 L494.09,336.8 L497.68,333.8 L501.28,330.81 L504.87,327.84 L508.46,324.87 L512.05,321.92 L515.64,318.97 L519.23,316.02 L522.83,313.09 L526.42,310.15 L530.01,307.22 L533.6,304.29" fill="none" stroke="#C6E160" stroke-width="1.1"/>
<path d="M318.1,484.73 L321.69,480.24 L325.28,475.76 L328.88,471.33 L332.47,466.95 L336.06,462.65 L339.65,458.45 L343.24,454.36 L346.83,450.4 L350.43,446.6 L354.02,442.96 L357.61,439.52 L361.2,436.29 L364.79,433.28 L368.38,430.46 L371.98,427.81 L375.57,425.3 L379.16,422.89 L382.75,420.56 L386.34,418.28 L389.93,416 L393.53,413.71 L397.12,411.37 L400.71,408.95 L404.3,406.42 L407.89,403.76 L411.48,400.98 L415.08,398.12 L418.67,395.2 L422.26,392.24 L425.85,389.28 L429.44,386.35 L433.03,383.45 L436.62,380.64 L440.22,377.93 L443.81,375.34 L447.4,372.91 L450.99,370.66 L454.58,368.58 L458.18,366.65 L461.77,364.85 L465.36,363.18 L468.95,361.61 L472.54,360.13 L476.13,358.73 L479.73,357.38 L483.32,356.08 L486.91,354.8 L490.5,353.54 L494.09,352.27 L497.68,351.01 L501.28,349.73 L504.87,348.46 L508.46,347.18 L512.05,345.9 L515.64,344.62 L519.23,343.34 L522.83,342.06 L526.42,340.77 L530.01,339.49 L533.6,338.2" fill="none" stroke="#7CB646" stroke-width="1.1"/>
<polygon points="318.1,481.63 320.78,486.28 315.42,486.28" fill="#fff" stroke="#FF8C1A" stroke-width="0.9" stroke-linejoin="miter"/>
<polygon points="361.2,441.26 363.88,445.91 358.52,445.91" fill="#fff" stroke="#FF8C1A" stroke-width="0.9" stroke-linejoin="miter"/>
<polygon points="404.3,419.87 406.98,424.52 401.62,424.52" fill="#fff" stroke="#FF8C1A" stroke-width="0.9" stroke-linejoin="miter"/>
<polygon points="447.4,399.28 450.08,403.93 444.72,403.93" fill="#fff" stroke="#FF8C1A" stroke-width="0.9" stroke-linejoin="miter"/>
<polygon points="490.5,379.91 493.18,384.56 487.82,384.56" fill="#fff" stroke="#FF8C1A" stroke-width="0.9" stroke-linejoin="miter"/>
<polygon points="533.6,370.62 536.28,375.27 530.92,375.27" fill="#fff" stroke="#FF8C1A" stroke-width="0.9" stroke-linejoin="miter"/>
<polygon points="318.1,481.43 320.96,486.38 315.24,486.38" fill="#C6E160"/>
<polygon points="361.2,437.02 364.06,441.97 358.34,441.97" fill="#C6E160"/>
<polygon points="404.3,391.82 407.16,396.77 401.44,396.77" fill="#C6E160"/>
<polygon points="447.4,373.65 450.26,378.6 444.54,378.6" fill="#C6E160"/>
<polygon points="490.5,336.31 493.36,341.26 487.64,341.26" fill="#C6E160"/>
<polygon points="533.6,299.94 536.46,304.89 530.74,304.89" fill="#C6E160"/>
<circle cx="318.1" cy="484.73" r="2.55" fill="#C8600F"/>
<circle cx="361.2" cy="443.55" r="2.55" fill="#C8600F"/>
<circle cx="404.3" cy="441.13" r="2.55" fill="#C8600F"/>
<circle cx="447.4" cy="438.71" r="2.55" fill="#C8600F"/>
<circle cx="490.5" cy="433.46" r="2.55" fill="#C8600F"/>
<circle cx="533.6" cy="428.82" r="2.55" fill="#C8600F"/>
<circle cx="318.1" cy="484.73" r="2.35" fill="#fff" stroke="#7CB646" stroke-width="0.9"/>
<circle cx="361.2" cy="435.88" r="2.35" fill="#fff" stroke="#7CB646" stroke-width="0.9"/>
<circle cx="404.3" cy="408.03" r="2.35" fill="#fff" stroke="#7CB646" stroke-width="0.9"/>
<circle cx="447.4" cy="369.69" r="2.35" fill="#fff" stroke="#7CB646" stroke-width="0.9"/>
<circle cx="490.5" cy="353.54" r="2.35" fill="#fff" stroke="#7CB646" stroke-width="0.9"/>
<circle cx="533.6" cy="338.2" r="2.35" fill="#fff" stroke="#7CB646" stroke-width="0.9"/>
<rect x="314" y="285.4" width="135.1" height="57.4" fill="#fff"/>
<line x1="333.3" x2="333.3" y1="285.4" y2="342.8" stroke="#e4e4e4" stroke-width="0.5"/>
<line x1="352.6" x2="352.6" y1="285.4" y2="342.8" stroke="#e4e4e4" stroke-width="0.5"/>
<line x1="371.9" x2="371.9" y1="285.4" y2="342.8" stroke="#e4e4e4" stroke-width="0.5"/>
<line x1="391.2" x2="391.2" y1="285.4" y2="342.8" stroke="#e4e4e4" stroke-width="0.5"/>
<line x1="410.5" x2="410.5" y1="285.4" y2="342.8" stroke="#e4e4e4" stroke-width="0.5"/>
<line x1="429.8" x2="429.8" y1="285.4" y2="342.8" stroke="#e4e4e4" stroke-width="0.5"/>
<rect x="314" y="285.7" width="135.1" height="10.78" fill="#bfbfbf"/>
<rect x="314" y="308.66" width="135.1" height="10.78" fill="#bfbfbf"/>
<rect x="314" y="331.62" width="135.1" height="10.78" fill="#bfbfbf"/>
<text x="342.95" y="292.04" class="tb" text-anchor="middle" style="font-size:7.2px">0</text>
<text x="362.25" y="292.04" class="tb" text-anchor="middle" style="font-size:7.2px">30</text>
<text x="381.55" y="292.04" class="tb" text-anchor="middle" style="font-size:7.2px">90</text>
<text x="400.85" y="292.04" class="tb" text-anchor="middle" style="font-size:7.2px">180</text>
<text x="420.15" y="292.04" class="tb" text-anchor="middle" style="font-size:7.2px">270</text>
<text x="439.45" y="292.04" class="tb" text-anchor="middle" style="font-size:7.2px">360</text>
<text x="323.65" y="303.82" class="tb" text-anchor="middle" style="font-size:7.2px">CK</text>
<text x="342.95" y="303.82" class="tb" text-anchor="middle" style="font-size:7.2px">Ac</text>
<text x="362.25" y="303.82" class="tb" text-anchor="middle" style="font-size:7.2px">Ab</text>
<text x="381.55" y="303.82" class="tb" text-anchor="middle" style="font-size:7.2px">Db</text>
<text x="400.85" y="303.82" class="tb" text-anchor="middle" style="font-size:7.2px">Cab</text>
<text x="420.15" y="303.82" class="tb" text-anchor="middle" style="font-size:7.2px">Dab</text>
<text x="439.45" y="303.82" class="tb" text-anchor="middle" style="font-size:7.2px">Da</text>
<text x="323.65" y="315.3" class="tb" text-anchor="middle" style="font-size:7.2px">CM</text>
<text x="342.95" y="315.3" class="tb" text-anchor="middle" style="font-size:7.2px">Ae</text>
<text x="362.25" y="315.3" class="tb" text-anchor="middle" style="font-size:7.2px">Ad</text>
<text x="381.55" y="315.3" class="tb" text-anchor="middle" style="font-size:7.2px">Cc</text>
<text x="400.85" y="315.3" class="tb" text-anchor="middle" style="font-size:7.2px">Bb</text>
<text x="420.15" y="315.3" class="tb" text-anchor="middle" style="font-size:7.2px">Ca</text>
<text x="439.45" y="315.3" class="tb" text-anchor="middle" style="font-size:7.2px">Ca</text>
<text x="323.65" y="326.78" class="tb" text-anchor="middle" style="font-size:7.2px">CD</text>
<text x="342.95" y="326.78" class="tb" text-anchor="middle" style="font-size:7.2px">Af</text>
<text x="362.25" y="326.78" class="tb" text-anchor="middle" style="font-size:7.2px">Ae</text>
<text x="381.55" y="326.78" class="tb" text-anchor="middle" style="font-size:7.2px">Ad</text>
<text x="400.85" y="326.78" class="tb" text-anchor="middle" style="font-size:7.2px">Ac</text>
<text x="420.15" y="326.78" class="tb" text-anchor="middle" style="font-size:7.2px">Ab</text>
<text x="439.45" y="326.78" class="tb" text-anchor="middle" style="font-size:7.2px">Aa</text>
<text x="323.65" y="338.26" class="tb" text-anchor="middle" style="font-size:7.2px">CE</text>
<text x="342.95" y="338.26" class="tb" text-anchor="middle" style="font-size:7.2px">Af</text>
<text x="362.25" y="338.26" class="tb" text-anchor="middle" style="font-size:7.2px">Ae</text>
<text x="381.55" y="338.26" class="tb" text-anchor="middle" style="font-size:7.2px">Bd</text>
<text x="400.85" y="338.26" class="tb" text-anchor="middle" style="font-size:7.2px">Ac</text>
<text x="420.15" y="338.26" class="tb" text-anchor="middle" style="font-size:7.2px">Bb</text>
<text x="439.45" y="338.26" class="tb" text-anchor="middle" style="font-size:7.2px">Ba</text>
<rect x="311.4" y="282.9" width="229.2" height="209.9" fill="none" stroke="#5a5a5a" stroke-width="1.4"/>
<line x1="307.6" x2="311.4" y1="484.73" y2="484.73" stroke="#333" stroke-width="1.1"/>
<text x="304.6" y="487.73" class="tk" text-anchor="end">0</text>
<line x1="307.6" x2="311.4" y1="444.36" y2="444.36" stroke="#333" stroke-width="1.1"/>
<text x="304.6" y="447.36" class="tk" text-anchor="end">10</text>
<line x1="307.6" x2="311.4" y1="404" y2="404" stroke="#333" stroke-width="1.1"/>
<text x="304.6" y="407" class="tk" text-anchor="end">20</text>
<line x1="307.6" x2="311.4" y1="363.63" y2="363.63" stroke="#333" stroke-width="1.1"/>
<text x="304.6" y="366.63" class="tk" text-anchor="end">30</text>
<line x1="307.6" x2="311.4" y1="323.27" y2="323.27" stroke="#333" stroke-width="1.1"/>
<text x="304.6" y="326.27" class="tk" text-anchor="end">40</text>
<line x1="307.6" x2="311.4" y1="282.9" y2="282.9" stroke="#333" stroke-width="1.1"/>
<text x="304.6" y="285.9" class="tk" text-anchor="end">50</text>
<line x1="318.1" x2="318.1" y1="492.8" y2="496.6" stroke="#333" stroke-width="1.1"/>
<text x="318.1" y="506.4" class="tk" text-anchor="middle">0</text>
<line x1="361.2" x2="361.2" y1="492.8" y2="496.6" stroke="#333" stroke-width="1.1"/>
<text x="361.2" y="506.4" class="tk" text-anchor="middle">30</text>
<line x1="404.3" x2="404.3" y1="492.8" y2="496.6" stroke="#333" stroke-width="1.1"/>
<text x="404.3" y="506.4" class="tk" text-anchor="middle">90</text>
<line x1="447.4" x2="447.4" y1="492.8" y2="496.6" stroke="#333" stroke-width="1.1"/>
<text x="447.4" y="506.4" class="tk" text-anchor="middle">180</text>
<line x1="490.5" x2="490.5" y1="492.8" y2="496.6" stroke="#333" stroke-width="1.1"/>
<text x="490.5" y="506.4" class="tk" text-anchor="middle">270</text>
<line x1="533.6" x2="533.6" y1="492.8" y2="496.6" stroke="#333" stroke-width="1.1"/>
<text x="533.6" y="506.4" class="tk" text-anchor="middle">360</text>
<text x="426.6" y="519" class="ttl" text-anchor="middle">Time (d)</text>
<text x="424.6" y="533.3" class="ttl" text-anchor="middle">(d)</text>
<text transform="translate(287.7,388) rotate(-90)" class="ttl" text-anchor="middle">Straw decomposition rate (%)</text>
</svg>
</body></html>
